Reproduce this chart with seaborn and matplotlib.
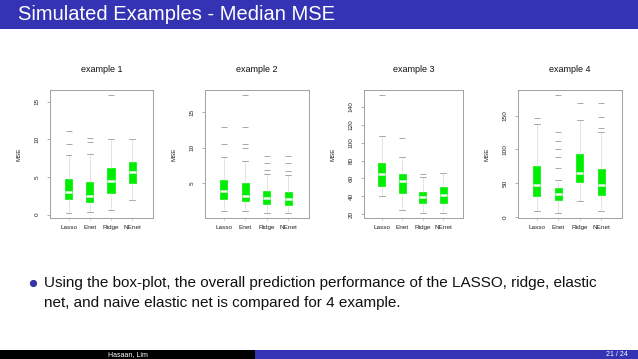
import matplotlib
matplotlib.use("Agg")
import matplotlib.pyplot as plt
from matplotlib.patches import Rectangle
from matplotlib.lines import Line2D
import pandas as pd
import seaborn as sns

methods = ["Lasso", "Enet", "Ridge", "NEnet"]
ex_titles = ["example 1", "example 2", "example 3", "example 4"]

# five-number summaries: lower whisker, Q1, median, Q3, upper whisker
ex1_summary = [[0.18, 2.04, 3.02, 4.70, 7.86],
               [0.36, 1.73, 2.53, 4.26, 8.00],
               [0.67, 2.88, 4.44, 6.13, 9.99],
               [1.91, 4.13, 5.68, 6.92, 9.99]]
ex1_outliers = [[9.37, 11.14], [9.59, 10.20], [15.90], []]

ex2_summary = [[1.06, 2.79, 3.87, 5.38, 8.71],
               [1.01, 2.46, 3.12, 4.95, 8.15],
               [0.73, 2.04, 2.84, 3.83, 6.22],
               [0.73, 1.90, 2.79, 3.69, 6.17]]
ex2_outliers = [[10.59, 12.89], [9.93, 10.54, 12.89, 17.49],
                [6.78, 7.82, 8.76], [6.74, 7.82, 8.76]]

ex3_summary = [[40.5, 51.4, 65.1, 77.6, 107.9],
               [24.2, 44.2, 56.7, 64.7, 84.4],
               [21.1, 32.5, 39.3, 44.6, 62.0],
               [21.1, 32.9, 41.6, 50.3, 66.2]]
ex3_outliers = [[153.7], [105.2], [65.1], []]

ex4_summary = [[9.4, 31.1, 46.9, 75.0, 137.1],
               [5.4, 24.7, 34.0, 43.4, 54.8],
               [23.2, 51.8, 64.6, 92.7, 143.6],
               [9.4, 32.1, 46.9, 70.5, 125.3]]
ex4_outliers = [[146.0], [72.5, 88.8, 100.6, 113.0, 125.8, 181.0],
                [169.2], [131.7, 147.5, 169.2]]

y_ticks = [[0, 5, 10, 15], [5, 10, 15],
           [20, 40, 60, 80, 100, 120, 140], [0, 50, 100, 150]]

summaries = [ex1_summary, ex2_summary, ex3_summary, ex4_summary]
outliers = [ex1_outliers, ex2_outliers, ex3_outliers, ex4_outliers]

W, H = 638, 359
BLUE = "#3333B3"
GREEN = "#00EE00"
WHISK = "#CFCFCF"
CAP = "#A8A8A8"


def summary_values(summary, outs):
    # repeat the read-off summary values so the quartiles land exactly on them
    lo, q1, med, q3, hi = summary
    k = len(outs) + 2
    return [lo] + [q1] * k + [med] * k + [q3] * (k + 1) + [hi] + list(outs)


def build_frame(summary, outs):
    rows = []
    for m, s, o in zip(methods, summary, outs):
        for v in summary_values(s, o):
            rows.append({"method": m, "MSE": v})
    return pd.DataFrame(rows)


sns.set_theme(style="white")
plt.rcParams["font.family"] = ["Liberation Sans", "DejaVu Sans"]

fig = plt.figure(figsize=(W / 100, H / 100), dpi=100)

# slide title bar
fig.add_artist(Rectangle((0, 1 - 29 / H), 1, 29 / H, transform=fig.transFigure,
                         facecolor=BLUE, edgecolor="none"))
fig.text(18 / W, 1 - 14.5 / H, "Simulated Examples - Median MSE", color="white",
         fontsize=14.5, ha="left", va="center")

# panels: (left, right) frame edges in pixels
frames = [(50, 153), (205, 309), (364, 463), (518, 622)]
top, bottom = 90, 218

for i, (l, r) in enumerate(frames):
    ax = fig.add_axes([l / W, 1 - bottom / H, (r - l) / W, (bottom - top) / H])
    df = build_frame(summaries[i], outliers[i])
    sns.boxplot(data=df, x="method", y="MSE", order=methods, ax=ax,
                color=GREEN, saturation=1, width=0.34, whis=1.5,
                linecolor=WHISK, linewidth=0.6, capwidths=0.28,
                boxprops={"edgecolor": GREEN, "linewidth": 0.5},
                medianprops={"color": "#F6F6F6", "linewidth": 1.8},
                whiskerprops={"color": WHISK, "linestyle": (0, (1.5, 0.8)), "linewidth": 0.6},
                capprops={"color": CAP, "linewidth": 0.7},
                flierprops={"marker": "_", "markersize": 4.2,
                            "markeredgecolor": CAP, "markeredgewidth": 0.7})
    lo = df["MSE"].min()
    hi = df["MSE"].max()
    pad = 0.04 * (hi - lo)
    ax.set_ylim(lo - pad, hi + pad)
    ax.set_xlim(-0.87, 3.97)
    ax.set_yticks(y_ticks[i])
    ax.set_yticklabels([str(t) for t in y_ticks[i]])
    ax.set_xlabel("")
    ax.set_ylabel("MSE", fontsize=4.4, color="#222222")
    ax.yaxis.set_label_coords(-28.5 / (r - l), 0.5)
    for sp in ax.spines.values():
        sp.set_visible(True)
        sp.set_color("#A0A0A0")
        sp.set_linewidth(0.7)
    ax.tick_params(axis="y", length=2.2, width=0.5, color="#909090",
                   labelsize=4.6, pad=5.2, labelcolor="#222222", left=True)
    ax.tick_params(axis="x", length=2.0, width=0.5, color="#C8C8C8",
                   labelsize=4.6, pad=3.0, labelcolor="#222222", bottom=True)
    plt.setp(ax.get_yticklabels(), rotation=90, va="center", ha="right")
    ax.text(0.5, 1 + 20 / (bottom - top), ex_titles[i], transform=ax.transAxes,
            ha="center", va="center", fontsize=6.5, color="#111111")

# bullet text
fig.add_artist(Line2D([33 / W], [1 - 283 / H], marker="o", markersize=4.6,
                      color=BLUE, markeredgecolor="#24248A", markeredgewidth=0.5,
                      transform=fig.transFigure))
fig.text(44 / W, 1 - 283.5 / H,
         "Using the box-plot, the overall prediction performance of the LASSO, ridge, elastic",
         fontsize=11, ha="left", va="center", color="#111111")
fig.text(44 / W, 1 - 302.5 / H,
         "net, and naive elastic net is compared for 4 example.",
         fontsize=11, ha="left", va="center", color="#111111")

# footer
fig.add_artist(Rectangle((0, 0), 255 / W, 9.5 / H, transform=fig.transFigure,
                         facecolor="black", edgecolor="none"))
fig.add_artist(Rectangle((255 / W, 0), 1 - 255 / W, 9.5 / H, transform=fig.transFigure,
                         facecolor=BLUE, edgecolor="none"))
fig.text(128 / W, 4.8 / H, "Hasaan, Lim", color="white", fontsize=5,
         ha="center", va="center")
fig.text(628 / W, 4.8 / H, "21 / 24", color="white", fontsize=5,
         ha="right", va="center")

fig.savefig("out.png", dpi=100)
